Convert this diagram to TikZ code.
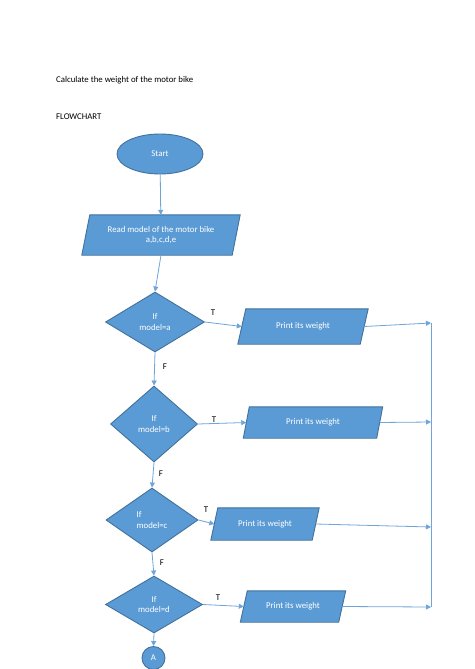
\documentclass[tikz,border=0pt]{standalone}
\usepackage{fontspec}
\setmainfont{Carlito}
\usetikzlibrary{shapes.geometric,arrows.meta}
\pgfdeclarelayer{background}
\pgfsetlayers{background,main}
\definecolor{boxfill}{HTML}{5B9BD5}
\definecolor{boxline}{HTML}{41719C}
\definecolor{connblue}{HTML}{6FA5D8}
\newcommand{\paralbg}[2]{%
  \begin{pgfonlayer}{background}
    \filldraw[fill=boxfill,draw=boxline,line width=0.9pt]
      ([xshift=#2]#1.north west) -- ([xshift=#2]#1.north east) --
      ([xshift=-#2]#1.south east) -- ([xshift=-#2]#1.south west) -- cycle;
  \end{pgfonlayer}}
\begin{document}
\begin{tikzpicture}[x=1pt,y=-1pt,
  every node/.style={font=\fontsize{8.8}{10.6}\selectfont},
  startbox/.style={ellipse, draw=boxline, fill=boxfill, line width=0.9pt, text=white,
    minimum width=86, minimum height=40, inner sep=0},
  decide/.style={diamond, draw=boxline, fill=boxfill, line width=0.9pt, text=white,
    inner sep=0, align=center},
  iobox/.style={rectangle, inner sep=0, text=white, align=center},
  circbox/.style={circle, draw=boxline, fill=boxfill, line width=0.9pt, text=white,
    minimum size=23, inner sep=0},
  lbl/.style={text=black, inner sep=0},
  link/.style={draw=connblue, line width=0.8pt, -{Triangle[length=5pt,width=5pt]}},
  plainlink/.style={draw=connblue, line width=0.8pt}]
\begin{pgfonlayer}{background}
\fill[white] (0,0) rectangle (474,669);
\end{pgfonlayer}
\useasboundingbox (0,0) rectangle (474,669);

\node[lbl, anchor=west] (title) at (56,80) {Calculate the weight of the motor bike};
\node[lbl, anchor=west] (fc) at (56,117) {FLOWCHART};

\node[startbox] (start) at (160,154) {Start};
\node[iobox, minimum width=150, minimum height=40] (read) at (161,235) {Read model of the motor bike\\a,b,c,d,e};
\paralbg{read}{4}

\node[decide, minimum width=99, minimum height=60] (d1) at (155,322) {If\\model=a};
\node[iobox, minimum width=122, minimum height=35] (p1) at (303,326.5) {Print its weight};
\paralbg{p1}{4}

\node[decide, minimum width=87, minimum height=76] (d2) at (154,424) {If\\model=b};
\node[iobox, minimum width=133, minimum height=31] (p2) at (313,422.5) {Print its weight};
\paralbg{p2}{3}

\node[decide, minimum width=92, minimum height=64, align=left] (d3) at (152,520) {If\\model=c};
\node[iobox, minimum width=101, minimum height=32] (p3) at (265,524) {Print its weight};
\paralbg{p3}{3.5}

\node[decide, minimum width=97, minimum height=57] (d4) at (154,604.5) {If\\model=d};
\node[iobox, minimum width=98, minimum height=31] (p4) at (293,606.5) {Print its weight};
\paralbg{p4}{3.5}

\node[circbox] (A) at (153.5,658) {A};

\coordinate (m1) at (431,323);
\coordinate (m2) at (431,422);
\coordinate (m3) at (431,527);
\coordinate (m4) at (431,607);

\draw[link] (start) -- (read);
\draw[link] (read.south) -- (d1.north);

\draw[link] (d1.east) -- (p1.west);
\node[lbl] (t1) at (213,313) {T};
\draw[link] (p1.east) -- (m1);
\draw[link] (d1.south) -- (d2.north);
\node[lbl] (f1) at (165,367) {F};

\draw[link] (d2.east) -- (p2.west);
\node[lbl] (t2) at (214,420) {T};
\draw[link] (p2.east) -- (m2);
\draw[link] (d2.south) -- (d3.north);
\node[lbl] (f2) at (161,474) {F};

\draw[link] (d3.east) -- (p3.west);
\node[lbl] (t3) at (206,510) {T};
\draw[link] (p3.east) -- (m3);
\draw[link] (d3.south) -- (d4.north);
\node[lbl] (f3) at (162,563) {F};

\draw[link] (d4.east) -- (p4.west);
\node[lbl] (t4) at (218,598) {T};
\draw[link] (p4.east) -- (m4);
\draw[link] (d4.south) -- (A.north);

\draw[plainlink] (m1) -- (m4);
\end{tikzpicture}
\end{document}
